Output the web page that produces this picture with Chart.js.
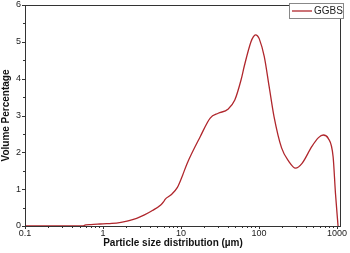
<!DOCTYPE html>
<html>
<head>
    <script src="https://cdn.jsdelivr.net/npm/chart.js@4.4.1/dist/chart.umd.min.js"></script>
</head>
<style>
    body { margin: 0; background: #fff; }
    #wrap { width: 350px; height: 253px; }
</style>
<body>
    <div id="wrap"><canvas id="psd" width="350" height="253"></canvas></div>
</body>
<script>
    // particle size (um) and volume %
    var sizes = [0.1, 0.55, 0.6, 0.7, 0.85, 1.0, 1.3, 1.7, 2.1, 2.7, 3.4, 4.3, 5.5, 6.0, 6.3, 7.4, 9.0,
        10.5, 12, 17.7, 23.7, 30, 40, 49, 59, 65, 79, 85, 90, 96, 101, 117, 135, 156, 195, 242, 294, 357, 477, 580,
        668, 773, 893, 957, 1033];
    var volume = [0, 0, 0.03, 0.04, 0.05, 0.06, 0.07, 0.1, 0.14, 0.21, 0.3, 0.42, 0.57, 0.66, 0.73, 0.84, 1.05,
        1.38, 1.7, 2.43, 2.93, 3.06, 3.17, 3.42, 3.97, 4.35, 5.0, 5.14, 5.19, 5.16, 5.08, 4.6, 3.79, 2.97, 2.12, 1.75, 1.57, 1.7, 2.16, 2.4,
        2.47, 2.38, 1.88, 0.89, 0];
    var seriesName = 'GGBS';
    var xMajor = [0.1, 1, 10, 100, 1000];
    var yLabels = [0, 1, 2, 3, 4, 5, 6];

    var lineColor = '#b0272d';
    var axisColor = '#333';

    var points = [];
    for (var i = 0; i < sizes.length; i++) {
        points.push({ x: sizes[i], y: volume[i] });
    }

    // minor ticks for each decade
    var xTickVals = [];
    for (var d = 0; d < xMajor.length; d++) {
        for (var m = 1; m <= 9; m++) {
            var v = +(xMajor[d] * m).toPrecision(3);
            if (v <= 1140) xTickVals.push(v);
        }
    }

    var frame = {
        id: 'frame',
        afterDraw: function (chart) {
            var ctx = chart.ctx;
            var a = chart.chartArea;
            var xs = chart.scales.x, ys = chart.scales.y;
            ctx.save();
            ctx.strokeStyle = axisColor;
            ctx.lineWidth = 1;
            ctx.strokeRect(Math.round(a.left) + 0.5, Math.round(a.top) + 0.5,
                Math.round(a.right - a.left) - 1, Math.round(a.bottom - a.top));
            ctx.beginPath();
            xs.ticks.forEach(function (t) {
                var px = Math.round(xs.getPixelForValue(t.value)) + 0.5;
                var len = xMajor.indexOf(t.value) >= 0 ? 3 : 2;
                ctx.moveTo(px, a.bottom);
                ctx.lineTo(px, a.bottom + len);
            });
            ys.ticks.forEach(function (t) {
                var py = Math.round(ys.getPixelForValue(t.value)) + 0.5;
                var len = yLabels.indexOf(t.value) >= 0 ? 3 : 2;
                ctx.moveTo(a.left, py);
                ctx.lineTo(a.left - len, py);
            });
            ctx.stroke();

            // x title
            ctx.fillStyle = '#111';
            ctx.font = 'bold 10px "Liberation Sans", Arial, sans-serif';
            ctx.textAlign = 'center';
            ctx.textBaseline = 'middle';
            ctx.fillText('Particle size distribution (\u00b5m)', 173, 243.5);

            // legend
            ctx.fillStyle = '#fff';
            ctx.fillRect(289, 3, 54, 15);
            ctx.strokeStyle = '#888';
            ctx.strokeRect(289.5, 3.5, 54, 15);
            ctx.strokeStyle = lineColor;
            ctx.lineWidth = 1.3;
            ctx.beginPath();
            ctx.moveTo(292, 11);
            ctx.lineTo(312, 11);
            ctx.stroke();
            ctx.fillStyle = '#222';
            ctx.textAlign = 'left';
            ctx.font = '10px "Liberation Sans", Arial, sans-serif';
            ctx.fillText(chart.data.datasets[0].label, 314, 11.5);
            ctx.restore();
        }
    };

    var tickFont = { family: '"Liberation Sans", Arial, sans-serif', size: 9, lineHeight: 1 };

    new Chart(document.getElementById('psd'), {
        type: 'line',
        data: {
            datasets: [{
                label: seriesName,
                data: points,
                borderColor: lineColor,
                borderWidth: 1.3,
                pointRadius: 0,
                fill: false,
                cubicInterpolationMode: 'monotone'
            }]
        },
        options: {
            responsive: false,
            animation: false,
            layout: { padding: { top: 0, right: 3, left: 0, bottom: 0 } },
            plugins: { legend: { display: false }, tooltip: { enabled: false } },
            scales: {
                x: {
                    type: 'logarithmic',
                    min: 0.1,
                    max: 1140,
                    afterBuildTicks: function (s) {
                        s.ticks = xTickVals.map(function (v) { return { value: v }; });
                    },
                    afterFit: function (s) { s.height = 27; },
                    grid: { display: false, drawTicks: false },
                    border: { display: false },
                    ticks: {
                        autoSkip: false,
                        maxRotation: 0,
                        padding: 3,
                        color: '#222',
                        font: tickFont,
                        callback: function (v) {
                            return xMajor.indexOf(v) >= 0 ? String(v) : '';
                        }
                    }
                },
                y: {
                    min: 0,
                    max: 6,
                    afterFit: function (s) { s.width = 25; s.paddingTop = 5; },
                    grid: { display: false, drawTicks: false },
                    border: { display: false },
                    ticks: {
                        stepSize: 0.5,
                        autoSkip: false,
                        padding: 4,
                        color: '#222',
                        font: tickFont,
                        callback: function (v) {
                            return yLabels.indexOf(v) >= 0 ? String(v) : '';
                        }
                    },
                    title: {
                        display: true,
                        text: 'Volume Percentage',
                        color: '#111',
                        padding: { top: 0, bottom: 0 },
                        font: { family: '"Liberation Sans", Arial, sans-serif', size: 10, weight: 'bold' }
                    }
                }
            }
        },
        plugins: [frame]
    });
</script>
</html>
